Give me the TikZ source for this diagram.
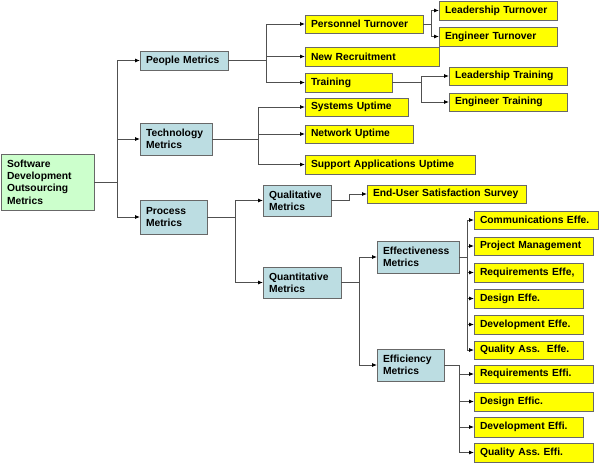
\documentclass[tikz,border=0pt]{standalone}
\usepackage{fontspec}
\setmainfont{Liberation Sans}
\usetikzlibrary{arrows.meta}
\frenchspacing
\definecolor{bluebox}{HTML}{BCDDE2}
\definecolor{greenbox}{HTML}{CCFFCC}
\definecolor{yelbox}{HTML}{FFFF00}
\definecolor{bordergray}{HTML}{686868}
\definecolor{linegray}{HTML}{505050}
\newcommand{\bx}[7]{%
 \pgfmathsetmacro{\bw}{#4-#2}\pgfmathsetmacro{\bh}{#5-#3}\pgfmathsetmacro{\tw}{#4-#2-12}%
 \node[#6, anchor=north west, minimum width=\bw pt, minimum height=\bh pt, text width=\tw pt] (#1) at (#2,#3) {#7};}
\begin{document}
\begin{tikzpicture}[x=1pt,y=-1pt,
  basebox/.style={draw=bordergray, line width=0.9pt, inner xsep=6pt, inner ysep=0pt, outer sep=0pt, align=left,
    font=\fontsize{10.3}{12.3}\selectfont\bfseries\frenchspacing},
  ybox/.style={basebox, fill=yelbox},
  bbox/.style={basebox, fill=bluebox},
  gbox/.style={basebox, fill=greenbox},
  arr/.style={draw=linegray, line width=0.8pt, -{Latex[length=5pt,width=4pt,color=black]}}]
\fill[white] (0,0) rectangle (599,463);
\useasboundingbox (0,0) rectangle (599,463);
% boxes
\bx{root}{1}{154}{94}{210}{gbox}{Software\\Development\\Outsourcing\\Metrics}
\bx{people}{140}{51}{228}{70}{bbox}{People Metrics}
\bx{tech}{140}{123}{212}{155}{bbox}{Technology\\Metrics}
\bx{process}{140}{200}{207}{234}{bbox}{Process\\Metrics}
\bx{personnel}{305}{15}{423}{33}{ybox}{Personnel Turnover}
\bx{leadT}{439}{1}{557}{20}{ybox}{Leadership Turnover}
\bx{engT}{439}{27}{557}{46}{ybox}{Engineer Turnover}
\bx{newrec}{305}{47}{439}{66}{ybox}{New Recruitment}
\bx{training}{305}{73}{392}{92}{ybox}{Training}
\bx{leadTr}{449}{67}{567}{85}{ybox}{Leadership Training}
\bx{engTr}{449}{93}{567}{111}{ybox}{Engineer Training}
\bx{sysup}{305}{98}{408}{116}{ybox}{Systems Uptime}
\bx{netup}{305}{125}{413}{143}{ybox}{Network Uptime}
\bx{supup}{305}{155}{475}{174}{ybox}{Support Applications Uptime}
\bx{qual}{263}{185}{331}{216}{bbox}{Qualitative\\Metrics}
\bx{enduser}{367}{185}{526}{203}{ybox}{End-User Satisfaction Survey}
\bx{quant}{263}{267}{341}{298}{bbox}{Quantitative\\Metrics}
\bx{effect}{377}{241}{459}{273}{bbox}{Effectiveness\\Metrics}
\bx{comm}{474}{211}{598}{229}{ybox}{Communications Effe.}
\bx{pm}{474}{237}{593}{255}{ybox}{Project Management}
\bx{reqeffe}{474}{263}{583}{282}{ybox}{Requirements Effe,}
\bx{deseffe}{474}{289}{583}{308}{ybox}{Design Effe.}
\bx{deveffe}{474}{315}{583}{334}{ybox}{Development Effe.}
\bx{qaeffe}{474}{341}{583}{359}{ybox}{Quality Ass.\ \ Effe.}
\bx{effic}{377}{349}{444}{381}{bbox}{Efficiency\\Metrics}
\bx{reqeffi}{474}{365}{593}{383}{ybox}{Requirements Effi.}
\bx{deseffi}{474}{392}{593}{411}{ybox}{Design Effic.}
\bx{deveffi}{474}{417}{583}{437}{ybox}{Development Effi.}
\bx{qaeffi}{474}{443}{593}{462}{ybox}{Quality Ass. Effi.}
% connectors
\foreach \t in {people,tech,process} \draw[arr] (root.east) -- ++(23,0) |- (\t.west);
\foreach \t in {personnel,newrec,training} \draw[arr] (people.east) -- ++(38,0) |- (\t.west);
\foreach \t in {leadT,engT} \draw[arr] (personnel.east) -- ++(8,0) |- (\t.west);
\foreach \t in {leadTr,engTr} \draw[arr] (training.east) -- ++(29,0) |- (\t.west);
\foreach \t in {sysup,netup,supup} \draw[arr] (tech.east) -- ++(46,0) |- (\t.west);
\foreach \t in {qual,quant} \draw[arr] (process.east) -- ++(28,0) |- (\t.west);
\draw[arr] (qual.east) -- ++(18,0) |- (enduser.west);
\foreach \t in {effect,effic} \draw[arr] (quant.east) -- ++(18,0) |- (\t.west);
\foreach \t in {comm,pm,reqeffe,deseffe,deveffe,qaeffe} \draw[arr] (effect.east) -- ++(8,0) |- (\t.west);
\foreach \t in {reqeffi,deseffi,deveffi,qaeffi} \draw[arr] (effic.east) -- ++(15,0) |- (\t.west);
\end{tikzpicture}
\end{document}
